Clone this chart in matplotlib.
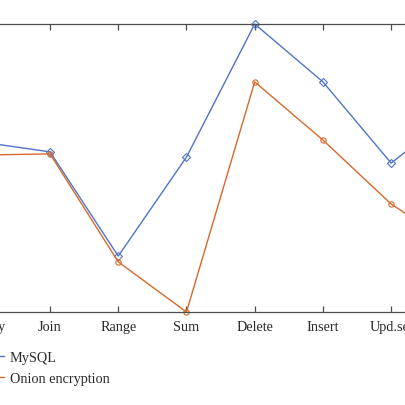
import matplotlib.pyplot as plt

# operation categories (the first and last lie outside the cropped view)
categories = ["Equality", "Join", "Range", "Sum", "Delete", "Insert", "Upd.set", "Upd.inc"]

# relative latency (0 = bottom of axes, 100 = top)
mysql = [59.0, 55.6, 19.4, 53.8, 100.0, 79.9, 51.7, 70.3]
onion = [54.5, 54.9, 17.4, 0.0, 79.9, 59.7, 37.5, 21.9]

BLUE = "#4f74c8"
ORANGE = "#d6692c"
AXIS = "#4d4d4d"

plt.rcParams["font.family"] = ["Liberation Serif", "DejaVu Serif"]

fig = plt.figure(figsize=(4.06, 4.06), dpi=100)
# axes run past the figure edges, the reference is a crop of a wider plot
ax = fig.add_axes([-18.2 / 406, 93 / 406, 477.6 / 406, 288 / 406])

x = list(range(len(categories)))
ax.plot(x, mysql, color=BLUE, lw=1.0, marker="D", ms=3.6, mfc="none",
        mew=0.8, label="MySQL", clip_on=False)
ax.plot(x, onion, color=ORANGE, lw=1.0, marker="o", ms=3.8, mfc="none",
        mew=0.8, label="Onion encryption", clip_on=False)

ax.set_xlim(0, len(categories) - 1)
ax.set_ylim(0, 100)
ax.set_xticks(x)
ax.set_xticklabels(categories, fontsize=10.3, color="#2b2b2b")
ax.tick_params(axis="x", direction="in", length=4, width=0.9, color=AXIS,
               top=True, pad=6)
ax.set_yticks([])
for side in ax.spines.values():
    side.set_color(AXIS)
    side.set_linewidth(0.9)

fig.legend(loc="upper left", bbox_to_anchor=(-25 / 406, 54 / 406),
           frameon=False, borderaxespad=0, borderpad=0, fontsize=10.3,
           handlelength=2.0, handletextpad=0.45, labelspacing=0.55,
           labelcolor="#2b2b2b")

fig.savefig("out.png", dpi=100)
